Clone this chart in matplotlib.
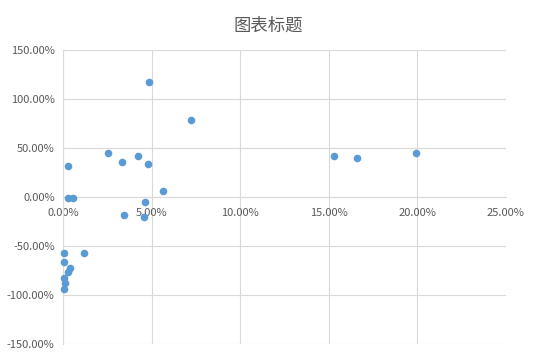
import matplotlib
matplotlib.use("Agg")
import matplotlib.pyplot as plt
from matplotlib.ticker import FuncFormatter, MultipleLocator

plt.rcParams['font.family'] = ['Noto Sans CJK SC', 'DejaVu Sans']

# data (x and y as fractions, shown as percent)
x_vals = [0.0487, 0.0724, 0.0256, 0.0335, 0.0425, 0.0481, 0.0030, 0.0566,
          0.0030, 0.0058, 0.0464, 0.0346, 0.0459,
          0.0120, 0.0006, 0.0006, 0.0040, 0.0028, 0.0006, 0.0014, 0.0006,
          0.1530, 0.1660, 0.1990]
y_vals = [1.180, 0.783, 0.456, 0.354, 0.425, 0.334, 0.316, 0.058,
          -0.013, -0.013, -0.054, -0.187, -0.207,
          -0.575, -0.575, -0.666, -0.720, -0.765, -0.830, -0.874, -0.935,
          0.425, 0.395, 0.446]

title = "图表标题"
text_col = "#595959"
grid_col = "#D9D9D9"

fig = plt.figure(figsize=(5.36, 3.6), dpi=100)
ax = fig.add_axes([0.1175, 0.0444, 0.8265, 0.8159])

ax.scatter(x_vals, y_vals, s=30, color="#5B9BD5", zorder=3, linewidths=0,
           clip_on=False)

ax.set_xlim(0, 0.25)
ax.set_ylim(-1.5, 1.5)
ax.xaxis.set_major_locator(MultipleLocator(0.05))
ax.yaxis.set_major_locator(MultipleLocator(0.5))
pct = FuncFormatter(lambda v, p: "{:.2f}%".format(v * 100))
ax.xaxis.set_major_formatter(pct)
ax.yaxis.set_major_formatter(pct)

ax.grid(True, color=grid_col, linewidth=0.8, zorder=0)
ax.set_axisbelow(True)
for s in ["top", "right"]:
    ax.spines[s].set_visible(False)
ax.spines["bottom"].set_position(("data", 0))
ax.spines["bottom"].set_color(grid_col)
ax.spines["left"].set_color(grid_col)
ax.tick_params(length=0, labelsize=8, labelcolor=text_col)
ax.tick_params(axis="x", pad=8)
ax.tick_params(axis="y", pad=6)

fig.suptitle(title, y=0.955, fontsize=12.5, color=text_col)

fig.savefig("out.png", dpi=100)
